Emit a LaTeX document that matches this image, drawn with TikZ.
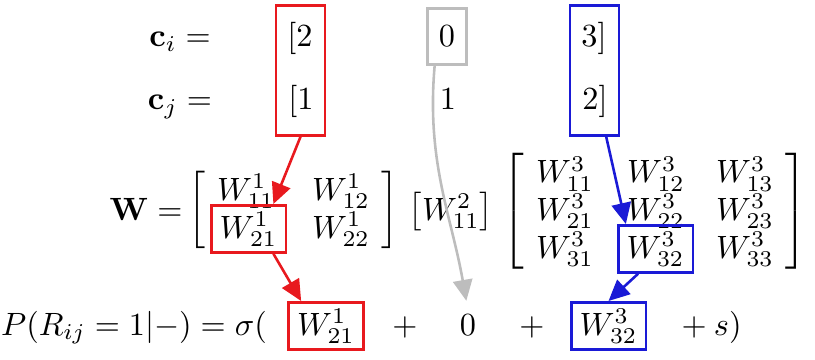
\documentclass[tikz,border=0pt]{standalone}
\usepackage{amsmath,amssymb}
\usepackage{tikz}
\usetikzlibrary{arrows.meta,fit,matrix}
\definecolor{pickred}{HTML}{E8191E}
\definecolor{pickblue}{HTML}{1A1AD6}
\definecolor{pickgray}{HTML}{BDBDBD}

\begin{document}
\begin{tikzpicture}[
  x=0.31pt, y=-0.31pt,
  entry/.style={anchor=base, inner sep=1pt},
  selbox/.style={entry, draw, line width=0.8pt, inner xsep=2.6pt, inner ysep=2pt},
  redbox/.style={selbox, draw=pickred},
  bluebox/.style={selbox, draw=pickblue},
  colbox/.style={draw, line width=0.8pt, inner xsep=2.4pt, inner ysep=4.2pt},
  brk/.style={inner xsep=1pt, inner ysep=0pt, left delimiter={[}, right delimiter={]}},
  arr/.style={-{Triangle[length=6.5pt,width=6pt]}, line width=0.8pt}]
  \useasboundingbox (0,0) rectangle (815,360);

  % index vectors
  \node[entry] (ci)  at (180,47)  {$\mathbf{c}_i =$};
  \node[entry] (cj)  at (180,110) {$\mathbf{c}_j =$};
  \node[entry] (ci1) at (300,47)  {$[2$};
  \node[entry] (cj1) at (301,110) {$[1$};
  \node[entry,text depth=0pt] (ci2) at (447,47) {$0$};
  \node[entry] (cj2) at (448,110) {$1$};
  \node[entry] (ci3) at (594,47)  {$3]$};
  \node[entry] (cj3) at (595,110) {$2]$};
  \node[colbox,draw=pickred,fit=(ci1)(cj1)] (sel1) {};
  \node[colbox,draw=pickgray,fit=(ci2)] (sel2) {};
  \node[colbox,draw=pickblue,fit=(ci3)(cj3)] (sel3) {};

  % weight tensors
  \node[entry] (wlbl) at (146,220) {$\mathbf{W} =$};
  \node[entry]   (wa11) at (246,200)   {$W^1_{11}$};
  \node[entry]   (wa12) at (341,200)   {$W^1_{12}$};
  \node[redbox]  (wa21) at (248.5,238) {$W^1_{21}$};
  \node[entry]   (wa22) at (341,238)   {$W^1_{22}$};
  \node[brk,fit=(wa11)(wa12)(wa22)] (wa) {};

  \node[entry] (wb11) at (451,220) {$\left[W^2_{11}\right]$};

  \node[entry]   (wc11) at (565,183) {$W^3_{11}$};
  \node[entry]   (wc12) at (656,183) {$W^3_{12}$};
  \node[entry]   (wc13) at (745,183) {$W^3_{13}$};
  \node[entry]   (wc21) at (565,220) {$W^3_{21}$};
  \node[entry]   (wc22) at (656,220) {$W^3_{22}$};
  \node[entry]   (wc23) at (745,220) {$W^3_{23}$};
  \node[entry]   (wc31) at (565,258) {$W^3_{31}$};
  \node[bluebox] (wc32) at (655.5,258) {$W^3_{32}$};
  \node[entry]   (wc33) at (745,258) {$W^3_{33}$};
  \node[brk,fit=(wc11)(wc13)(wc33)] (wc) {};

  % likelihood
  \node[entry]   (plbl)  at (134,335)   {$P(R_{ij} = 1|-) = \sigma($};
  \node[redbox]  (pw21)  at (326,335)   {$W^1_{21}$};
  \node[entry]   (plus1) at (405,335)   {$+$};
  \node[entry]   (pzero) at (468,335)   {$0$};
  \node[entry]   (plus2) at (532,335)   {$+$};
  \node[bluebox] (pw32)  at (608.5,335) {$W^3_{32}$};
  \node[entry]   (ptail) at (708,335)   {${}+s)$};

  \draw[arr,pickred] (sel1.south) -- (wa21.45);
  \draw[arr,pickred] (wa21.-45) -- (pw21.135);
  \draw[arr,pickgray,shorten >=3pt] (sel2.-113) to[out=-95,in=100] (pzero.north);
  \draw[arr,pickblue] (sel3.-80) -- (wc32.140);
  \draw[arr,pickblue] (wc32.-125) -- (pw32.north);
\end{tikzpicture}
\end{document}
